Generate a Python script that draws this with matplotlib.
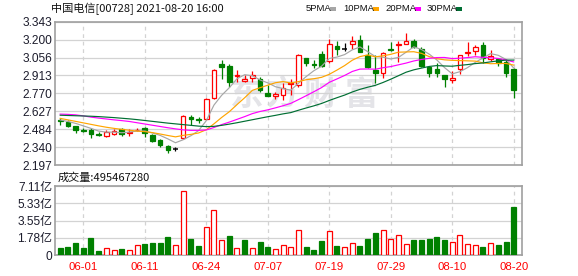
import matplotlib
matplotlib.use('Agg')
import matplotlib.pyplot as plt
from matplotlib.patches import Rectangle

# ---------------- data ----------------
opens = [2.557, 2.543, 2.509, 2.477, 2.477, 2.448, 2.431, 2.445, 2.482, 2.456,
         2.474, 2.490, 2.437, 2.397, 2.350, 2.325, 2.410, 2.583, 2.565, 2.562,
         2.730, 3.005, 2.989, 2.909, 2.866, 2.890, 2.882, 2.775, 2.745, 2.757,
         2.847, 2.840, 3.050, 3.005, 3.085, 3.030, 3.150, 3.122, 3.162, 3.197,
         3.077, 2.957, 2.935, 3.122, 3.157, 3.165, 3.188, 3.122, 2.978, 2.962,
         2.917, 2.877, 2.965, 3.095, 3.108, 3.157, 3.047, 3.045, 3.023, 2.965]
highs = [2.575, 2.557, 2.512, 2.495, 2.490, 2.462, 2.476, 2.482, 2.490, 2.482,
         2.490, 2.500, 2.447, 2.402, 2.357, 2.338, 2.594, 2.597, 2.583, 2.730,
         2.962, 3.037, 3.005, 2.957, 2.917, 2.951, 2.903, 2.837, 2.783, 2.850,
         2.882, 3.085, 3.050, 3.036, 3.110, 3.202, 3.190, 3.175, 3.228, 3.237,
         3.157, 3.077, 3.103, 3.183, 3.190, 3.250, 3.202, 3.143, 2.983, 3.010,
         2.917, 2.951, 3.077, 3.180, 3.157, 3.183, 3.117, 3.053, 3.036, 2.970]
lows = [2.517, 2.500, 2.450, 2.460, 2.410, 2.428, 2.423, 2.436, 2.430, 2.430,
        2.470, 2.420, 2.383, 2.338, 2.295, 2.309, 2.405, 2.517, 2.530, 2.557,
        2.725, 2.882, 2.823, 2.863, 2.858, 2.863, 2.783, 2.751, 2.722, 2.720,
        2.757, 2.823, 2.990, 2.970, 2.983, 3.010, 3.077, 3.110, 3.122, 3.103,
        2.970, 2.855, 2.890, 3.110, 3.018, 3.165, 3.130, 2.978, 2.898, 2.898,
        2.818, 2.850, 2.922, 3.070, 3.077, 3.015, 3.030, 2.990, 2.903, 2.735]
closes = [2.545, 2.509, 2.473, 2.470, 2.442, 2.440, 2.463, 2.468, 2.447, 2.462,
          2.478, 2.452, 2.392, 2.357, 2.317, 2.325, 2.589, 2.565, 2.560, 2.722,
          2.957, 2.978, 2.863, 2.920, 2.882, 2.917, 2.797, 2.751, 2.768, 2.810,
          2.855, 3.077, 3.010, 3.000, 2.990, 3.165, 3.122, 3.122, 3.190, 3.103,
          2.978, 2.930, 3.095, 3.117, 3.165, 3.188, 3.143, 2.990, 2.935, 2.930,
          2.882, 2.893, 3.077, 3.100, 3.138, 3.055, 3.069, 3.010, 2.935, 2.797]
volumes = [0.75, 0.86, 1.27, 0.75, 1.78, 0.41, 0.69, 0.48, 0.65, 0.51,
           1.00, 1.10, 1.20, 1.20, 1.86, 1.03, 6.60, 1.62, 0.93, 2.89,
           4.60, 1.55, 1.96, 0.75, 1.55, 0.75, 1.34, 0.82, 0.58, 1.00,
           0.82, 2.58, 0.82, 0.52, 1.44, 2.47, 0.93, 0.82, 1.27, 0.93,
           1.68, 2.30, 2.58, 1.62, 2.03, 1.10, 1.55, 1.55, 1.62, 1.86,
           1.55, 1.34, 2.03, 1.10, 1.00, 0.82, 1.20, 1.03, 1.34, 4.955]  # 亿
ma5 = [2.557, 2.545, 2.530, 2.510, 2.490, 2.468, 2.460, 2.460, 2.455, 2.460,
       2.469, 2.469, 2.453, 2.434, 2.406, 2.375, 2.399, 2.431, 2.472, 2.551,
       2.676, 2.754, 2.815, 2.887, 2.919, 2.911, 2.877, 2.854, 2.823, 2.808,
       2.795, 2.851, 2.904, 2.951, 2.987, 3.049, 3.060, 3.080, 3.118, 3.141,
       3.104, 3.064, 3.059, 3.045, 3.057, 3.099, 3.142, 3.121, 3.084, 3.037,
       2.976, 2.926, 2.943, 2.976, 3.018, 3.053, 3.088, 3.074, 3.041, 2.973]
ma10 = [2.570, 2.558, 2.546, 2.534, 2.522, 2.510, 2.499, 2.490, 2.482, 2.475,
        2.468, 2.464, 2.456, 2.445, 2.433, 2.422, 2.434, 2.442, 2.453, 2.479,
        2.526, 2.577, 2.623, 2.680, 2.735, 2.794, 2.815, 2.835, 2.855, 2.864,
        2.853, 2.864, 2.879, 2.887, 2.898, 2.922, 2.956, 2.992, 3.035, 3.064,
        3.077, 3.062, 3.070, 3.082, 3.099, 3.101, 3.103, 3.090, 3.064, 3.047,
        3.038, 3.034, 3.032, 3.030, 3.028, 3.014, 3.007, 3.009, 3.009, 2.996]
ma20 = [2.604, 2.602, 2.598, 2.590, 2.580, 2.572, 2.565, 2.558, 2.552, 2.545,
        2.535, 2.525, 2.515, 2.505, 2.495, 2.486, 2.478, 2.474, 2.474, 2.477,
        2.497, 2.520, 2.540, 2.562, 2.584, 2.608, 2.625, 2.638, 2.654, 2.671,
        2.690, 2.720, 2.751, 2.783, 2.816, 2.858, 2.885, 2.913, 2.945, 2.964,
        2.965, 2.963, 2.975, 2.984, 2.998, 3.012, 3.029, 3.041, 3.050, 3.056,
        3.057, 3.048, 3.051, 3.056, 3.063, 3.058, 3.055, 3.049, 3.037, 3.021]
ma30 = [2.595, 2.593, 2.591, 2.589, 2.587, 2.584, 2.580, 2.576, 2.571, 2.566,
        2.560, 2.553, 2.546, 2.539, 2.532, 2.526, 2.520, 2.514, 2.508, 2.504,
        2.506, 2.514, 2.524, 2.535, 2.547, 2.559, 2.571, 2.583, 2.594, 2.606,
        2.616, 2.635, 2.653, 2.670, 2.689, 2.713, 2.735, 2.756, 2.781, 2.802,
        2.819, 2.834, 2.857, 2.883, 2.911, 2.939, 2.958, 2.972, 2.985, 2.992,
        2.989, 2.987, 2.994, 3.000, 3.008, 3.013, 3.022, 3.030, 3.036, 3.036]

tick_idx = [3, 11, 19, 27, 35, 43, 51, 59]
tick_labels = ['06-01', '06-11', '06-24', '07-07', '07-19', '07-29', '08-10', '08-20']
price_ticks = [2.197, 2.340, 2.484, 2.627, 2.770, 2.913, 3.056, 3.200, 3.343]
vol_ticks = [0, 1.78, 3.55, 5.33, 7.11]
vol_tick_labels = ['0', '1.78亿', '3.55亿', '5.33亿', '7.11亿']
title = '中国电信[00728] 2021-08-20 16:00'
vol_text = '成交量:495467280'
ma_names = ['5PMA', '10PMA', '20PMA', '30PMA']
watermark = '东方财富'

# ---------------- style ----------------
RED = '#ff0000'
GREEN = '#008000'
MA_COLORS = ['#a6a6a6', '#ffa500', '#ff00ff', '#006e33']
GRID = '#d3d3d3'
FRAME = '#a0a0a0'
NUM_FONT = ['Liberation Sans', 'Noto Sans CJK SC', 'DejaVu Sans']
CJK_FONT = ['Noto Sans CJK SC', 'DejaVu Sans']

W, H = 578, 276
fig = plt.figure(figsize=(W / 100, H / 100), dpi=100)
fig.patch.set_facecolor('white')

left, right = 55, 522.3
ax = fig.add_axes([left / W, 1 - 165 / H, (right - left) / W, (165 - 21.7) / H])
axv = fig.add_axes([left / W, 1 - 255 / H, (right - left) / W, (255 - 186) / H])

n = len(closes)
x = list(range(n))
xlim = (-0.677, 60.12)

for a in (ax, axv):
    a.set_xlim(*xlim)
    for s in a.spines.values():
        s.set_color(FRAME)
        s.set_linewidth(1.2)
    for t in tick_idx:
        a.axvline(t, color=GRID, lw=0.9, ls=(0, (3, 3)), zorder=1)

# watermark (behind candles)
wm_x = [246, 283, 320, 361]
for ch, xc in zip(watermark, wm_x):
    ax.text(xc / W, 1 - 95 / H, ch, fontsize=24, fontweight='bold', color='#e4e4e8',
            ha='center', va='center', family=CJK_FONT, zorder=0.5,
            transform=fig.transFigure)

# price grid
ax.set_ylim(price_ticks[0], price_ticks[-1])
for p in price_ticks:
    ax.axhline(p, color=GRID, lw=0.9, zorder=1)
ax.set_yticks(price_ticks)
ax.set_yticklabels([f'{p:.3f}' for p in price_ticks], fontfamily=NUM_FONT,
                   fontsize=8.6, color='#1c1c2c')
ax.set_xticks(tick_idx)
ax.set_xticklabels([])
ax.tick_params(axis='both', length=0, pad=2)

# candles
bw = 0.6
for i in range(n):
    o, h, l, c = opens[i], highs[i], lows[i], closes[i]
    if c > o:
        col = RED
        ax.vlines(i, l, h, color=col, lw=0.9, zorder=3)
        ax.add_patch(Rectangle((i - bw / 2, o), bw, c - o, facecolor='white',
                               edgecolor=col, lw=0.9, zorder=4))
    elif c < o:
        col = GREEN
        ax.vlines(i, l, h, color=col, lw=0.9, zorder=3)
        ax.add_patch(Rectangle((i - bw / 2, c), bw, o - c, facecolor=col,
                               edgecolor=col, lw=0.9, zorder=4))
    else:
        col = 'black'
        ax.vlines(i, l, h, color=col, lw=0.9, zorder=3)
        ax.hlines(o, i - bw / 2, i + bw / 2, color=col, lw=1.1, zorder=4)

# moving averages
for ma, colr in zip([ma5, ma10, ma20, ma30], MA_COLORS):
    ax.plot(x, ma, color=colr, lw=0.85, zorder=5)

# volume panel
axv.set_ylim(vol_ticks[0], vol_ticks[-1])
for v in vol_ticks:
    axv.axhline(v, color=GRID, lw=0.9, zorder=1)
up = [closes[0] >= opens[0]] + [closes[i] >= closes[i - 1] for i in range(1, n)]
faces = ['white' if u else GREEN for u in up]
edges = [RED if u else GREEN for u in up]
axv.bar(x, volumes, width=0.65, color=faces, edgecolor=edges, lw=0.9, zorder=3)
axv.set_yticks(vol_ticks)
axv.set_yticklabels(vol_tick_labels, fontfamily=NUM_FONT, fontsize=8.6, color='#1c1c2c')
axv.set_xticks(tick_idx)
axv.set_xticklabels(tick_labels, fontfamily=NUM_FONT, fontsize=8.2, color=RED)
axv.tick_params(axis='y', length=0, pad=2)
axv.tick_params(axis='x', length=0, pad=5)

# header texts
fig.text(51 / W, 1 - 8.7 / H, title, fontsize=8, family=CJK_FONT, color='#111111',
         ha='left', va='center')
leg_x = [306, 343, 385, 427]
sq_x = [330, 373, 415, 456]
for name, lx, sx, colr in zip(ma_names, leg_x, sq_x, MA_COLORS):
    fig.text(lx / W, 1 - 8.7 / H, name, fontsize=6.8, family=NUM_FONT,
             color='#111111', ha='left', va='center')
    fig.add_artist(Rectangle((sx / W, 1 - 10.7 / H), 5.5 / W, 4 / H,
                             transform=fig.transFigure, facecolor=colr,
                             edgecolor='none'))
fig.text(57.5 / W, 1 - 177.5 / H, vol_text, fontsize=8, family=CJK_FONT,
         color='#111111', ha='left', va='center')

fig.savefig('out.png', dpi=100, facecolor='white')
